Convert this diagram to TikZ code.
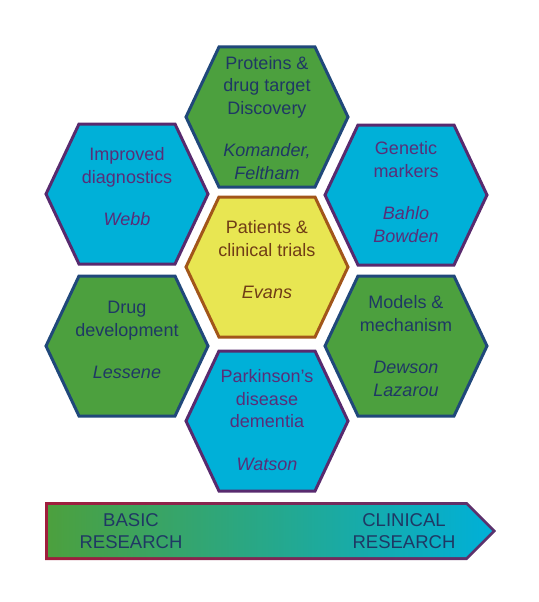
\documentclass[tikz,border=0pt]{standalone}
\usepackage{fontspec}
\setmainfont{Liberation Sans}
\definecolor{hexgreen}{RGB}{76,160,62}
\definecolor{hexcyan}{RGB}{0,176,216}
\definecolor{hexyellow}{RGB}{232,230,82}
\definecolor{greenedge}{RGB}{32,72,122}
\definecolor{cyanedge}{RGB}{88,42,110}
\definecolor{yellowedge}{RGB}{162,86,26}
\definecolor{navytext}{RGB}{31,56,100}
\definecolor{purpletext}{RGB}{88,46,120}
\definecolor{browntext}{RGB}{112,60,22}
\definecolor{arrowteal}{RGB}{40,170,128}
\definecolor{edgered}{RGB}{160,30,60}
\definecolor{edgebrown}{RGB}{170,90,40}
\definecolor{edgepurple}{RGB}{90,50,110}
\tikzset{
  hexcell/.pic={\path[pic actions] (-81,0) -- (-48,-70) -- (48,-70) -- (81,0) -- (48,70) -- (-48,70) -- cycle;},
  greenhex/.style={fill=hexgreen, draw=greenedge, line width=3pt},
  cyanhex/.style={fill=hexcyan, draw=cyanedge, line width=3pt},
  yellowhex/.style={fill=hexyellow, draw=yellowedge, line width=3pt},
  celltext/.style={align=center, inner sep=0pt, font=\fontsize{18}{22.5}\selectfont},
  greentext/.style={celltext, text=navytext},
  cyantext/.style={celltext, text=purpletext},
  yellowtext/.style={celltext, text=browntext},
  bartext/.style={align=center, inner sep=0pt, text=navytext, font=\fontsize{18.5}{21.5}\selectfont}
}
\begin{document}
\begin{tikzpicture}[x=1pt,y=-1pt]
  \useasboundingbox (0,0) rectangle (538,602);
  \pic[greenhex] at (267,117) {hexcell};
  \pic[yellowhex] at (267,267) {hexcell};
  \pic[cyanhex] at (267,421) {hexcell};
  \pic[cyanhex] at (127,194) {hexcell};
  \pic[cyanhex] at (406,195) {hexcell};
  \pic[greenhex] at (127,346) {hexcell};
  \pic[greenhex] at (406,346) {hexcell};
  \node[greentext] (proteins) at (267,118) {Proteins \&\\drug target\\Discovery\\[20pt]\textit{Komander,}\\\textit{Feltham}};
  \node[yellowtext] (patients) at (267,260) {Patients \&\\clinical trials\\[20pt]\textit{Evans}};
  \node[cyantext] (parkinsons) at (267,420) {Parkinson's\\disease\\dementia\\[20pt]\textit{Watson}};
  \node[cyantext] (diagnostics) at (127,187) {Improved\\diagnostics\\[20pt]\textit{Webb}};
  \node[cyantext] (genetic) at (406,192) {Genetic\\markers\\[20pt]\textit{Bahlo}\\\textit{Bowden}};
  \node[greentext] (drugdev) at (127,340) {Drug\\development\\[20pt]\textit{Lessene}};
  \node[greentext] (models) at (406,346) {Models \&\\mechanism\\[20pt]\textit{Dewson}\\\textit{Lazarou}};
  \shade[left color=edgered, middle color=edgebrown, right color=edgepurple]
    (45,502) -- (467,502) -- (496,531) -- (467,560) -- (45,560) -- cycle;
  \shade[left color=hexgreen, middle color=arrowteal, right color=hexcyan]
    (48,505) -- (466,505) -- (492,531) -- (466,557) -- (48,557) -- cycle;
  \node[bartext] (basic) at (131,531) {BASIC\\RESEARCH};
  \node[bartext] (clinical) at (404,531) {CLINICAL\\RESEARCH};
\end{tikzpicture}
\end{document}
